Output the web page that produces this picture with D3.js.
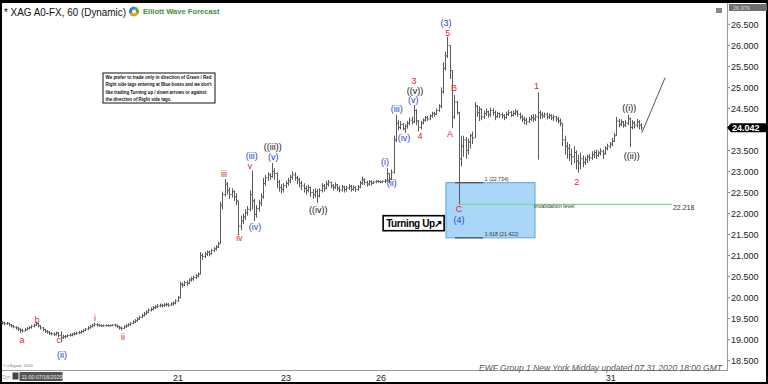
<!DOCTYPE html>
<html><head><meta charset="utf-8">
<script src="https://cdn.jsdelivr.net/npm/d3@7"></script>
<style>body{margin:0;background:#fff}svg{display:block}text{font-family:Arial,"Liberation Sans",sans-serif}</style>
</head><body><svg id="c" width="768" height="384"></svg>
<script>
// ---- data: hourly OHLC bars, XAG A0-FX 60 min, from Jul 16 2020 ----
const opens=[
19.42,19.40,19.38,19.39,19.35,19.33,19.30,19.28,19.25,19.22,
19.21,19.24,19.27,19.29,19.32,19.35,19.38,19.33,19.28,19.24,
19.20,19.18,19.15,19.14,19.12,19.16,19.10,19.05,19.07,19.08,
19.10,19.11,19.13,19.14,19.16,19.17,19.19,19.22,19.25,19.28,
19.31,19.34,19.36,19.35,19.34,19.33,19.33,19.34,19.33,19.34,
19.35,19.34,19.31,19.28,19.27,19.31,19.33,19.36,19.39,19.42,
19.45,19.49,19.53,19.57,19.61,19.65,19.70,19.72,19.76,19.78,
19.80,19.82,19.81,19.83,19.84,19.82,19.85,19.87,19.92,20.00,
20.32,20.30,20.36,20.34,20.42,20.45,20.48,20.52,20.56,21.00,
20.98,21.03,21.08,21.04,21.12,21.16,21.20,21.28,22.20,22.45,
22.70,22.55,22.45,22.52,22.40,22.30,21.70,21.82,21.92,22.02,
22.10,22.45,22.30,21.98,22.12,22.25,22.40,22.72,22.85,22.92,
22.88,23.00,22.95,22.75,22.62,22.58,22.66,22.72,22.78,22.86,
22.92,22.85,22.80,22.72,22.66,22.60,22.55,22.62,22.50,22.45,
22.52,22.42,22.55,22.66,22.60,22.70,22.74,22.66,22.62,22.68,
22.60,22.56,22.63,22.57,22.61,22.65,22.58,22.62,22.57,22.63,
22.72,22.80,22.74,22.70,22.76,22.72,22.75,22.77,22.76,22.75,
22.76,22.78,22.95,22.82,22.98,23.75,24.15,24.05,24.12,24.02,
24.08,24.15,24.22,24.18,24.45,24.20,24.05,24.15,24.22,24.28,
24.25,24.32,24.38,24.36,24.45,24.55,24.90,25.45,25.75,26.00,
25.40,24.30,24.65,24.40,23.30,23.60,23.75,23.50,23.70,23.85,
23.80,24.55,24.40,24.48,24.30,24.38,24.42,24.35,24.45,24.40,
24.30,24.38,24.35,24.33,24.28,24.36,24.40,24.34,24.38,24.42,
24.36,24.30,24.25,24.22,24.18,24.24,24.28,24.25,24.30,24.40,
24.35,24.32,24.36,24.30,24.33,24.28,24.30,24.25,24.20,24.15,
23.75,23.60,23.55,23.40,23.35,23.45,23.25,23.20,23.30,23.22,
23.28,23.35,23.32,23.40,23.45,23.38,23.44,23.48,23.42,23.55,
23.60,23.65,23.72,23.85,24.20,24.12,24.18,24.10,24.15,24.25,
24.05,24.15,24.10,24.18,24.10];
const highs=[
19.44,19.43,19.42,19.40,19.37,19.35,19.32,19.30,19.27,19.26,
19.28,19.30,19.32,19.35,19.38,19.43,19.40,19.35,19.30,19.26,
19.23,19.20,19.18,19.17,19.19,19.18,19.20,19.12,19.11,19.13,
19.15,19.16,19.18,19.19,19.21,19.23,19.25,19.28,19.32,19.35,
19.38,19.41,19.39,19.37,19.36,19.36,19.36,19.36,19.36,19.37,
19.38,19.36,19.33,19.31,19.34,19.37,19.39,19.42,19.46,19.49,
19.53,19.57,19.62,19.66,19.70,19.74,19.77,19.80,19.82,19.85,
19.86,19.85,19.87,19.88,19.87,19.89,19.91,19.96,20.04,20.38,
20.36,20.40,20.41,20.46,20.50,20.52,20.56,20.60,21.08,21.05,
21.08,21.12,21.12,21.16,21.20,21.25,21.33,22.28,22.52,22.82,
22.75,22.62,22.60,22.55,22.48,22.30,21.95,22.00,22.10,22.18,
22.55,23.02,22.35,22.20,22.32,22.48,22.85,22.92,22.98,22.96,
23.20,23.08,22.98,22.80,22.70,22.72,22.78,22.85,22.92,23.00,
22.98,22.90,22.85,22.78,22.72,22.66,22.68,22.64,22.58,22.60,
22.58,22.60,22.72,22.70,22.78,22.80,22.76,22.70,22.74,22.70,
22.66,22.68,22.66,22.66,22.70,22.68,22.67,22.65,22.68,22.78,
22.88,22.84,22.78,22.80,22.79,22.78,22.79,22.79,22.78,22.79,
22.82,23.08,22.96,23.05,23.85,24.35,24.22,24.20,24.15,24.12,
24.20,24.28,24.30,24.58,24.48,24.22,24.20,24.26,24.32,24.32,
24.36,24.42,24.42,24.50,24.60,25.00,25.60,25.85,26.20,26.00,
25.40,24.82,24.68,24.42,23.85,23.85,23.82,23.78,23.90,23.95,
24.65,24.58,24.55,24.50,24.45,24.50,24.45,24.52,24.50,24.45,
24.42,24.40,24.40,24.36,24.42,24.46,24.44,24.45,24.48,24.46,
24.40,24.35,24.30,24.28,24.30,24.34,24.36,24.36,24.88,24.45,
24.42,24.40,24.40,24.38,24.36,24.35,24.32,24.30,24.26,24.15,
23.85,23.70,23.65,23.55,23.60,23.50,23.40,23.45,23.38,23.35,
23.40,23.42,23.48,23.50,23.52,23.50,23.55,23.52,23.60,23.66,
23.70,23.80,23.92,24.30,24.25,24.24,24.20,24.22,24.35,24.28,
24.22,24.20,24.25,24.22,24.15];
const lows=[
19.36,19.34,19.35,19.32,19.29,19.27,19.24,19.21,19.16,19.17,
19.19,19.22,19.24,19.26,19.29,19.32,19.29,19.24,19.20,19.16,
19.14,19.11,19.10,19.09,19.10,19.06,18.94,19.02,19.03,19.05,
19.07,19.08,19.10,19.11,19.13,19.14,19.17,19.20,19.23,19.26,
19.29,19.31,19.31,19.31,19.30,19.31,19.31,19.31,19.31,19.32,
19.31,19.28,19.24,19.22,19.25,19.28,19.31,19.33,19.37,19.40,
19.43,19.47,19.51,19.55,19.59,19.63,19.67,19.70,19.73,19.75,
19.77,19.77,19.78,19.79,19.78,19.80,19.81,19.84,19.90,19.98,
20.24,20.27,20.28,20.32,20.38,20.40,20.44,20.48,20.55,20.90,
20.94,20.99,20.98,21.02,21.08,21.12,21.18,21.28,22.10,22.40,
22.45,22.35,22.38,22.30,22.20,21.49,21.60,21.75,21.85,21.95,
22.05,22.10,21.82,21.90,22.05,22.18,22.35,22.65,22.78,22.80,
22.85,22.80,22.60,22.52,22.48,22.50,22.60,22.66,22.72,22.80,
22.78,22.70,22.62,22.56,22.50,22.45,22.50,22.40,22.35,22.38,
22.25,22.38,22.50,22.52,22.58,22.64,22.60,22.55,22.58,22.54,
22.50,22.52,22.50,22.52,22.56,22.52,22.54,22.51,22.54,22.60,
22.68,22.68,22.64,22.66,22.66,22.70,22.72,22.73,22.72,22.73,
22.72,22.76,22.72,22.80,22.95,23.70,23.98,24.00,23.98,23.92,
24.02,24.10,24.12,24.15,24.10,23.95,24.00,24.12,24.18,24.20,
24.22,24.28,24.30,24.34,24.42,24.50,24.85,25.40,25.70,25.20,
24.03,24.25,24.35,22.22,23.12,23.35,23.30,23.40,23.55,23.65,
23.80,24.30,24.20,24.22,24.25,24.32,24.28,24.30,24.33,24.22,
24.28,24.27,24.26,24.22,24.25,24.32,24.30,24.31,24.34,24.30,
24.24,24.18,24.12,24.10,24.15,24.20,24.18,24.20,23.28,24.25,
24.26,24.28,24.24,24.25,24.22,24.20,24.18,24.14,24.08,23.60,
23.40,23.30,23.25,23.15,23.20,23.05,22.97,23.05,23.10,23.15,
23.20,23.25,23.28,23.32,23.30,23.35,23.38,23.30,23.40,23.50,
23.55,23.60,23.70,23.85,24.05,24.08,24.04,24.06,24.10,23.58,
24.00,24.02,24.05,24.00,23.98];
const closes=[
19.40,19.38,19.39,19.35,19.33,19.30,19.28,19.25,19.22,19.21,
19.24,19.27,19.29,19.32,19.35,19.38,19.33,19.28,19.24,19.20,
19.18,19.15,19.14,19.12,19.16,19.10,19.05,19.07,19.08,19.10,
19.11,19.13,19.14,19.16,19.17,19.19,19.22,19.25,19.28,19.31,
19.34,19.36,19.35,19.34,19.33,19.33,19.34,19.33,19.34,19.35,
19.34,19.31,19.28,19.27,19.31,19.33,19.36,19.39,19.42,19.45,
19.49,19.53,19.57,19.61,19.65,19.70,19.72,19.76,19.78,19.80,
19.82,19.81,19.83,19.84,19.82,19.85,19.87,19.92,20.00,20.32,
20.30,20.36,20.34,20.42,20.45,20.48,20.52,20.56,21.00,20.98,
21.03,21.08,21.04,21.12,21.16,21.20,21.28,22.20,22.45,22.70,
22.55,22.45,22.52,22.40,22.30,21.70,21.82,21.92,22.02,22.10,
22.45,22.30,21.98,22.12,22.25,22.40,22.72,22.85,22.92,22.88,
23.00,22.95,22.75,22.62,22.58,22.66,22.72,22.78,22.86,22.92,
22.85,22.80,22.72,22.66,22.60,22.55,22.62,22.50,22.45,22.52,
22.42,22.55,22.66,22.60,22.70,22.74,22.66,22.62,22.68,22.60,
22.56,22.63,22.57,22.61,22.65,22.58,22.62,22.57,22.63,22.72,
22.80,22.74,22.70,22.76,22.72,22.75,22.77,22.76,22.75,22.76,
22.78,22.95,22.82,22.98,23.75,24.15,24.05,24.12,24.02,24.08,
24.15,24.22,24.18,24.45,24.20,24.05,24.15,24.22,24.28,24.25,
24.32,24.38,24.36,24.45,24.55,24.90,25.45,25.75,26.00,25.40,
24.30,24.65,24.40,23.30,23.60,23.75,23.50,23.70,23.85,23.80,
24.55,24.40,24.48,24.30,24.38,24.42,24.35,24.45,24.40,24.30,
24.38,24.35,24.33,24.28,24.36,24.40,24.34,24.38,24.42,24.36,
24.30,24.25,24.22,24.18,24.24,24.28,24.25,24.30,24.40,24.35,
24.32,24.36,24.30,24.33,24.28,24.30,24.25,24.20,24.15,23.75,
23.60,23.55,23.40,23.35,23.45,23.25,23.20,23.30,23.22,23.28,
23.35,23.32,23.40,23.45,23.38,23.44,23.48,23.42,23.55,23.60,
23.65,23.72,23.85,24.20,24.12,24.18,24.10,24.15,24.25,24.05,
24.15,24.10,24.18,24.10,24.04];

const priceTicks=[26.5,26.0,25.5,25.0,24.5,23.5,23.0,22.5,22.0,21.5,21.0,20.5,20.0,19.5,19.0,18.5];
const dayLabels=["21","23","26","31"];
const dayBars=[78.2,126.2,168.4,270.6];
const lastPrice=24.042, scaleTop=26.979;

// wave labels: text, bar index, price level, colour group
const waveText =["a","b","c","(ii)","i","ii","iii","iv","v","(iii)","(iv)","((iii))","(v)","((iv))","(i)","(ii)","(iii)","(iv)","3","((v))","(v)","4","(3)","5","A","B","C","(4)","1","2","((i))","((ii))"];
const waveBar  =[8.9,15.6,25.2,26.7,41.3,53.8,98.7,105.5,110.2,111,112.4,120.3,120.6,140.6,170.2,173.2,175.4,178.7,183.1,183.6,182.8,185.8,197.3,198.1,199.1,200.9,203.1,203.1,237.6,255.4,278.8,279.9];
const wavePrice=[18.99,19.47,18.99,18.64,19.52,19.07,22.94,21.42,23.13,23.37,21.68,23.59,23.35,22.08,23.23,22.72,24.48,23.79,25.14,24.91,24.69,23.84,26.53,26.29,23.89,24.98,22.10,21.85,25.03,22.76,24.50,23.37];
const waveColor=["r","r","r","b","r","r","r","r","r","b","b","k","b","k","b","b","b","b","r","k","b","r","b","r","r","r","r","b","r","r","k","k"];

// blue box (fib extension area) and invalidation
const boxBars=[197.3,236.9], boxPrices=[22.734,21.422];
const fibLabels=["1 (22.734)","1.618 (21.422)"];
const invalidation=22.218, invalidBars=[203,297.8];
const projBars=[284.4,294.7], projPrices=[23.92,25.23];
const turnBar=196.5, turnPrice=21.77;
const disclaimer=["We prefer to trade only in direction of Green / Red","Right side tags entering at Blue boxes and we don't","like trading Turning up / down arrows or against","the direction of Right side tags."];

const svg=d3.select("#c");
const W=768,H=384;
const x=d3.scaleLinear().domain([0,284]).range([2,641]);
const y=d3.scaleLinear().domain([18.5,26.5]).range([360.7,24.3]);
const col={r:"#e3242b",b:"#2b3bd1",k:"#111"};

svg.append("rect").attr("width",W).attr("height",H).attr("fill","#000");
svg.append("rect").attr("x",2).attr("y",3).attr("width",W-4).attr("height",379).attr("fill","#fff");

// axes lines
svg.append("line").attr("x1",2).attr("x2",727).attr("y1",370.5).attr("y2",370.5).attr("stroke","#9a9a9a");
svg.append("line").attr("x1",727.5).attr("x2",727.5).attr("y1",3).attr("y2",371).attr("stroke","#9a9a9a");

// disclaimer box
const db=svg.append("g");
db.append("rect").attr("x",103).attr("y",73).attr("width",112).attr("height",30).attr("fill","#fff").attr("stroke","#111").attr("stroke-width",1);
const dLen=[106,106,101,66];
disclaimer.forEach((t,i)=>{
  db.append("text").attr("x",105.5).attr("y",79+i*7.3).attr("font-size",4.9).attr("font-weight","bold").attr("fill","#111")
    .attr("textLength",dLen[i]).attr("lengthAdjust","spacingAndGlyphs").text(t);
});

// blue box
svg.append("rect").attr("x",x(boxBars[0])).attr("y",y(boxPrices[0])).attr("width",x(boxBars[1])-x(boxBars[0])).attr("height",y(boxPrices[1])-y(boxPrices[0]))
  .attr("fill","#a9d6f7").attr("stroke","#5fa6de").attr("stroke-width",1);
boxPrices.forEach((p,i)=>{
  svg.append("line").attr("x1",x(201.3)).attr("x2",x(213.8)).attr("y1",y(p)).attr("y2",y(p)).attr("stroke","#555").attr("stroke-width",1.3);
  svg.append("text").attr("x",x(214.6)).attr("y",y(p)-1.5).attr("font-size",5.2).attr("fill","#333").text(fibLabels[i]);
});
// invalidation line
svg.append("line").attr("x1",x(invalidBars[0])).attr("x2",x(invalidBars[1])).attr("y1",y(invalidation)).attr("y2",y(invalidation)).attr("stroke","#7fdc7f").attr("stroke-width",1.2);
svg.append("text").attr("x",x(236.4)).attr("y",y(invalidation)+4).attr("font-size",5.5).attr("fill","#333").text("Invalidation level");
svg.append("text").attr("x",x(298.2)).attr("y",y(invalidation)+6).attr("font-size",7).attr("fill","#333").text(invalidation.toFixed(3));

// OHLC bars
const bars=svg.append("g").attr("stroke","#5a5a5a").attr("stroke-width",1);
closes.forEach((c,i)=>{
  const xi=Math.round(x(i))+0.5;
  bars.append("line").attr("x1",xi).attr("x2",xi).attr("y1",y(highs[i])).attr("y2",y(lows[i]));
  bars.append("line").attr("x1",xi-1.2).attr("x2",xi).attr("y1",y(opens[i])).attr("y2",y(opens[i]));
  bars.append("line").attr("x1",xi).attr("x2",xi+1.2).attr("y1",y(c)).attr("y2",y(c));
});

// projection line
svg.append("line").attr("x1",x(projBars[0])).attr("y1",y(projPrices[0])).attr("x2",x(projBars[1])).attr("y2",y(projPrices[1])).attr("stroke","#444").attr("stroke-width",0.9);

// wave labels
waveText.forEach((t,i)=>{
  svg.append("text").attr("x",x(waveBar[i])).attr("y",y(wavePrice[i])).attr("text-anchor","middle").attr("dominant-baseline","central")
    .attr("font-size",9).attr("fill",col[waveColor[i]]).text(t);
});

// Turning Up box
const tx=x(turnBar), ty=y(turnPrice);
svg.append("rect").attr("x",tx-61).attr("y",ty-7.5).attr("width",61).attr("height",15).attr("fill","#fff").attr("stroke","#000").attr("stroke-width",1.6);
svg.append("text").attr("x",tx-58).attr("y",ty+3.8).attr("font-size",10).attr("font-weight","bold").attr("letter-spacing",-0.4).attr("fill","#000").text("Turning Up");
svg.append("text").attr("x",tx-10).attr("y",ty+4).attr("font-size",10).attr("font-weight","bold").attr("fill","#000").text("\u2197");

// right price axis
const ax=svg.append("g");
priceTicks.forEach(p=>{
  ax.append("line").attr("x1",727.5).attr("x2",730).attr("y1",y(p)).attr("y2",y(p)).attr("stroke","#888");
  ax.append("text").attr("x",731).attr("y",y(p)+3.3).attr("font-size",9).attr("fill","#222").text(p.toFixed(3));
});
// last price tag
const ly=y(lastPrice);
svg.append("path").attr("d",`M727,${ly} L731,${ly-4.5} L767,${ly-4.5} L767,${ly+4.5} L731,${ly+4.5} Z`).attr("fill","#000");
svg.append("text").attr("x",732).attr("y",ly+3.2).attr("font-size",9).attr("font-weight","bold").attr("fill","#fff").text(lastPrice.toFixed(3));
// top scale tag
svg.append("rect").attr("x",729).attr("y",4).attr("width",38).attr("height",7).attr("fill","#6e6e6e");
svg.append("text").attr("x",733).attr("y",9.6).attr("font-size",5.5).attr("fill","#ddd").text(scaleTop.toFixed(3));
svg.append("rect").attr("x",716).attr("y",8).attr("width",6).attr("height",5).attr("fill","#888");

// day labels
dayLabels.forEach((d,i)=>{
  svg.append("text").attr("x",x(dayBars[i])).attr("y",380.5).attr("text-anchor","middle").attr("font-size",9).attr("fill","#222").text(d);
});
svg.append("text").attr("x",2.5).attr("y",379).attr("font-size",4.5).attr("fill","#999").text("Dyn");
svg.append("rect").attr("x",12.5).attr("y",372.5).attr("width",6).attr("height",7).attr("fill","#444");
svg.append("rect").attr("x",19.5).attr("y",372).attr("width",43).attr("height",9).attr("fill","#555");
svg.append("text").attr("x",21.5).attr("y",378.6).attr("font-size",5.3).attr("fill","#eee").text("11:00 07/16/2020");
svg.append("text").attr("x",3).attr("y",367).attr("font-size",4.2).attr("fill","#777").text("\u00a9 eSignal, 2020");
svg.append("text").attr("x",722).attr("y",371).attr("text-anchor","end").attr("font-size",8.5).attr("font-style","italic").attr("fill","#555").text("EWF Group 1 New York Midday updated 07.31.2020 18:00 GMT");

// title + logo
svg.append("text").attr("x",4).attr("y",15.5).attr("font-size",10.5).attr("fill","#111")
  .attr("textLength",122).attr("lengthAdjust","spacingAndGlyphs").text("* XAG A0-FX, 60 (Dynamic)");
const lg=svg.append("g").attr("transform","translate(134,11.5)");
const arc=d3.arc().innerRadius(2).outerRadius(5);
[["#4caf50",0,2.1],["#f39c12",2.1,4.2],["#2f7fd6",4.2,6.283]].forEach(a=>{
  lg.append("path").attr("d",arc({startAngle:a[1],endAngle:a[2]})).attr("fill",a[0]);
});
svg.append("text").attr("x",143).attr("y",14).attr("font-size",7.6).attr("font-weight","bold").attr("fill","#3f8f3f").text("Elliott Wave Forecast");
</script></body></html>
